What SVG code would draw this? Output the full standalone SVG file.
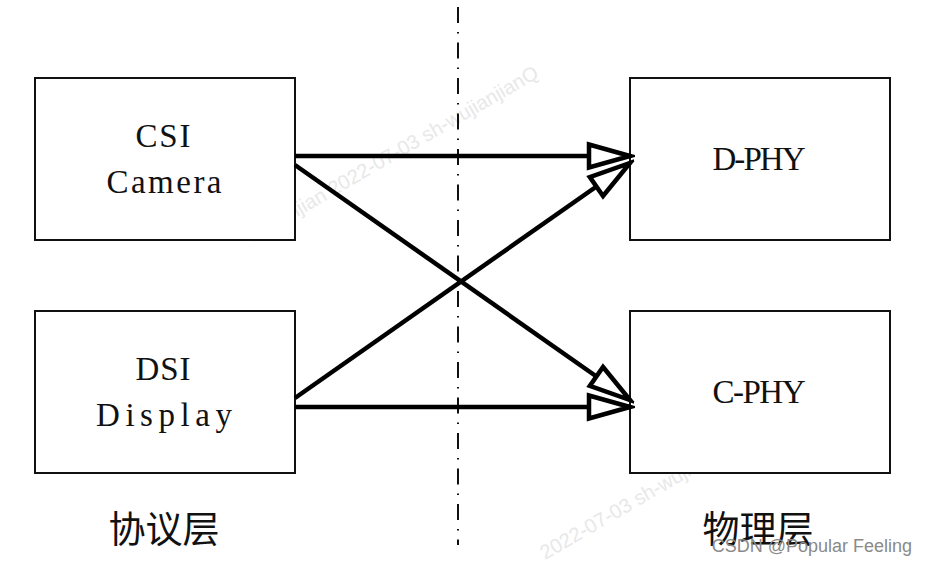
<svg xmlns="http://www.w3.org/2000/svg" width="927" height="565" viewBox="0 0 927 565">
  <style>
    .box { fill: #fff; stroke: #111; stroke-width: 2; }
    .lbl { font-family: "Liberation Serif", "Times New Roman", serif; font-size: 33px; fill: #111; text-anchor: middle; }
    .cn { font-family: "Noto Sans CJK SC", "Noto Sans", sans-serif; font-size: 37px; fill: #111; text-anchor: middle; }
    .conn { stroke: #000; stroke-width: 4.5; fill: none; marker-end: url(#arr); }
    .wm { font-family: "Liberation Sans", Arial, sans-serif; font-size: 20px; fill: #e8e8e8; }
  </style>
  <defs>
    <marker id="arr" markerUnits="userSpaceOnUse" markerWidth="50" markerHeight="32" viewBox="0 0 50 32" refX="45" refY="16" orient="auto">
      <path d="M4,4.5 L45,16 L4,27.5 Z" fill="#fff" stroke="#000" stroke-width="4.5" stroke-linejoin="miter"/>
    </marker>
  </defs>
  <rect width="927" height="565" fill="#fff"/>

  <g id="watermarks">
    <text class="wm" transform="translate(252,243) rotate(-30)">wujianjian  2022-07-03  sh-wujianjianQ</text>
    <text class="wm" transform="translate(545,560) rotate(-30)">2022-07-03  sh-wujianjianQ</text>
  </g>

  <g id="divider">
    <line x1="458" y1="7" x2="458" y2="545" stroke="#111" stroke-width="2" stroke-dasharray="16,9,1.5,9"/>
  </g>

  <g id="csi">
    <rect class="box" x="35" y="78" width="260" height="162"/>
    <text class="lbl" x="163" y="147" textLength="55" lengthAdjust="spacing">CSI</text>
    <text class="lbl" x="164" y="193" textLength="115" lengthAdjust="spacing">Camera</text>
  </g>
  <g id="dsi">
    <rect class="box" x="35" y="311" width="260" height="162"/>
    <text class="lbl" x="163" y="380" textLength="55" lengthAdjust="spacing">DSI</text>
    <text class="lbl" x="164" y="426" textLength="136" lengthAdjust="spacing">Display</text>
  </g>
  <g id="dphy">
    <rect class="box" x="630" y="78" width="260" height="162"/>
    <text class="lbl" x="759" y="170" textLength="93" lengthAdjust="spacing">D-PHY</text>
  </g>
  <g id="cphy">
    <rect class="box" x="630" y="311" width="260" height="162"/>
    <text class="lbl" x="759" y="403" textLength="93" lengthAdjust="spacing">C-PHY</text>
  </g>

  <g id="connectors">
    <line class="conn" x1="295" y1="156" x2="630" y2="156"/>
    <line class="conn" x1="295" y1="165" x2="630" y2="400"/>
    <line class="conn" x1="295" y1="398" x2="630" y2="163"/>
    <line class="conn" x1="295" y1="407" x2="630" y2="407"/>
  </g>

  <g id="layer-labels">
    <text class="cn" x="164" y="543">协议层</text>
    <text class="cn" x="758" y="543">物理层</text>
  </g>

  <g id="credit">
    <text x="912" y="552" font-family="Liberation Sans, Arial, sans-serif" font-size="18" fill="#8a8a8a" text-anchor="end">CSDN @Popular Feeling</text>
  </g>
</svg>
